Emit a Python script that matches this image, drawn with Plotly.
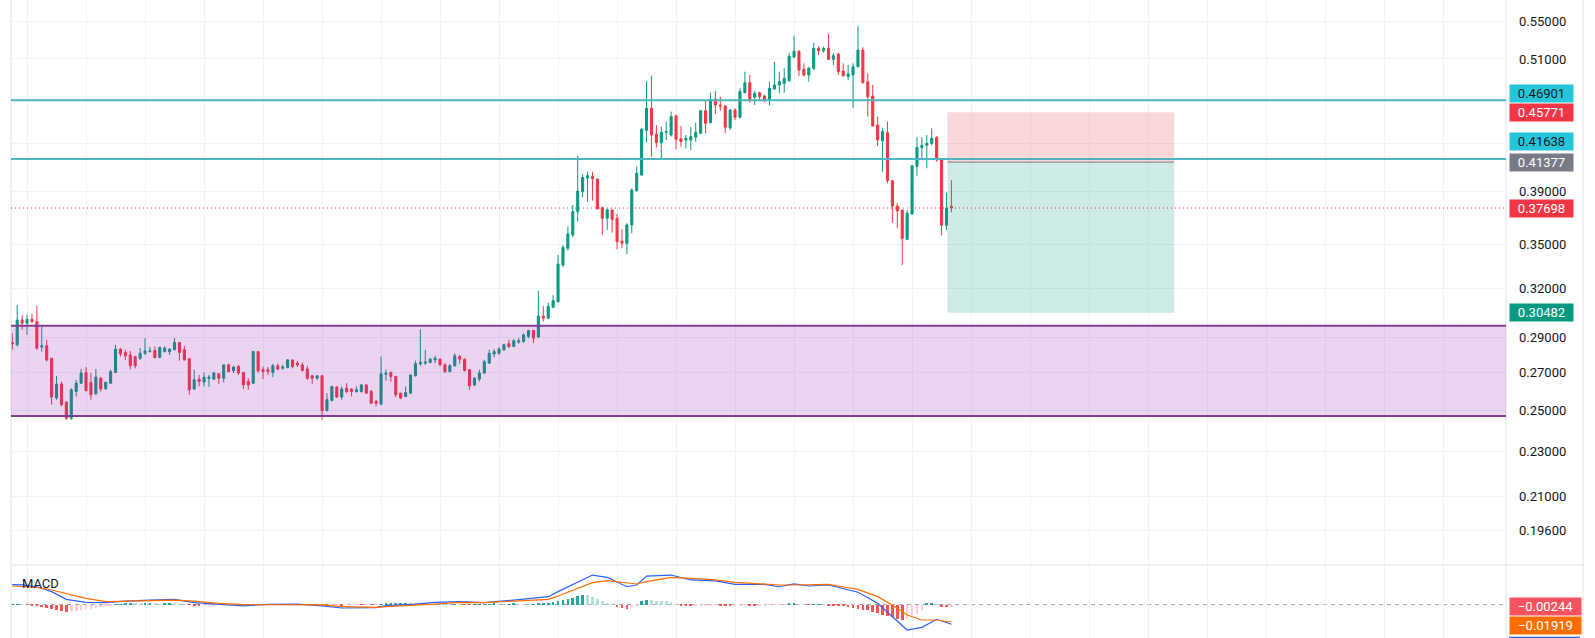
import numpy as np
import plotly.graph_objects as go

# ---------------- data ----------------
open_ = [
    .2870, .2857, .3005, .2985, .3009, .2995, .2844, .2851, .2780, .2565,
    .2639, .2544, .2462, .2599, .2643, .2701, .2647, .2587, .2670, .2613,
    .2643, .2701, .2832, .2813, .2799, .2790, .2780, .2808, .2818, .2824,
    .2786, .2818, .2818, .2828, .2871, .2828, .2777, .2612, .2665, .2649,
    .2669, .2665, .2694, .2670, .2743, .2710, .2734, .2701, .2652, .2643,
    .2818, .2718, .2716, .2701, .2738, .2724, .2729, .2771, .2753, .2743,
    .2720, .2683, .2670, .2683, .2501, .2552, .2623, .2570, .2617, .2612,
    .2599, .2599, .2634, .2599, .2547, .2533, .2692, .2701, .2679, .2590,
    .2573, .2590, .2683, .2749, .2753, .2756, .2771, .2775, .2743, .2706,
    .2738, .2790, .2775, .2716, .2634, .2665, .2698, .2753, .2805, .2808,
    .2828, .2863, .2847, .2874, .2876, .2905, .2941, .2902, .3029, .3015,
    .3083, .3118, .3359, .3475, .3570, .3742, .3897, .4006, .4019, .3998,
    .3772, .3692, .3755, .3692, .3526, .3509, .3643, .3905, .4031, .4414,
    .4614, .4380, .4304, .4396, .4371, .4543, .4339, .4327, .4327, .4352,
    .4387, .4592, .4482, .4700, .4645, .4636, .4436, .4599, .4532, .4763,
    .4860, .4719, .4763, .4731, .4693, .4799, .4838, .4854, .4880, .5119,
    .5180, .4994, .4937, .5004, .5211, .5186, .5211, .5096, .5151, .4977,
    .4921, .4937, .5021, .5193, .4870, .4731, .4461, .4320, .4392, .3985,
    .3785, .3755, .3538, .3725, .4103, .4261, .4281, .4296, .4350, .4155,
    .3640, .3784,
]
high = [
    .2925, .3098, .3036, .3036, .3042, .3091, .2965, .2886, .2780, .2683,
    .2651, .2547, .2617, .2661, .2721, .2731, .2698, .2720, .2676, .2652,
    .2716, .2857, .2838, .2828, .2822, .2794, .2838, .2896, .2844, .2847,
    .2847, .2847, .2838, .2896, .2871, .2851, .2780, .2716, .2688, .2701,
    .2688, .2706, .2698, .2743, .2749, .2738, .2743, .2706, .2670, .2822,
    .2822, .2734, .2731, .2749, .2749, .2743, .2775, .2771, .2765, .2756,
    .2738, .2688, .2688, .2688, .2590, .2629, .2626, .2626, .2643, .2617,
    .2626, .2638, .2638, .2608, .2556, .2790, .2716, .2706, .2683, .2593,
    .2626, .2688, .2767, .2949, .2828, .2780, .2794, .2780, .2753, .2749,
    .2808, .2799, .2780, .2720, .2676, .2716, .2771, .2828, .2832, .2844,
    .2863, .2886, .2890, .2896, .2925, .2945, .2945, .3187, .3091, .3112,
    .3161, .3428, .3498, .3631, .3793, .4189, .4039, .4058, .4058, .4004,
    .3781, .3764, .3757, .3725, .3611, .3655, .3923, .4100, .4436, .4876,
    .4926, .4461, .4446, .4491, .4583, .4558, .4451, .4371, .4441, .4482,
    .4599, .4693, .4763, .4779, .4724, .4645, .4605, .4614, .4805, .4970,
    .4937, .4782, .4773, .4741, .4870, .5072, .4970, .5004, .5160, .5348,
    .5190, .5055, .5021, .5270, .5235, .5228, .5367, .5160, .5165, .5055,
    .5038, .5055, .5452, .5222, .4954, .4838, .4537, .4436, .4491, .3985,
    .3806, .3755, .3755, .4114, .4352, .4352, .4371, .4431, .4361, .4169,
    .3889, .3990,
]
low = [
    .2828, .2847, .2945, .2915, .2985, .2828, .2818, .2761, .2530, .2556,
    .2522, .2454, .2454, .2573, .2639, .2599, .2556, .2582, .2599, .2608,
    .2639, .2698, .2790, .2771, .2718, .2724, .2771, .2799, .2813, .2780,
    .2780, .2813, .2799, .2828, .2767, .2767, .2582, .2608, .2626, .2626,
    .2623, .2661, .2638, .2647, .2701, .2698, .2688, .2612, .2608, .2639,
    .2701, .2665, .2688, .2676, .2712, .2716, .2724, .2724, .2731, .2706,
    .2661, .2639, .2661, .2454, .2496, .2547, .2565, .2556, .2590, .2573,
    .2593, .2593, .2587, .2534, .2522, .2530, .2657, .2652, .2570, .2559,
    .2570, .2587, .2679, .2738, .2743, .2753, .2753, .2738, .2698, .2701,
    .2734, .2749, .2706, .2608, .2626, .2652, .2694, .2749, .2786, .2799,
    .2824, .2838, .2844, .2863, .2870, .2896, .2867, .2896, .2995, .3009,
    .3077, .3112, .3343, .3458, .3553, .3667, .3852, .3819, .3827, .3757,
    .3570, .3606, .3587, .3468, .3475, .3435, .3582, .3897, .4023, .4305,
    .4183, .4263, .4172, .4327, .4357, .4245, .4271, .4254, .4240, .4313,
    .4381, .4387, .4476, .4560, .4592, .4387, .4416, .4506, .4523, .4757,
    .4667, .4645, .4693, .4671, .4645, .4789, .4757, .4763, .4870, .5112,
    .4928, .4921, .4871, .4987, .5141, .5165, .5089, .5038, .4937, .4921,
    .4886, .4614, .5014, .4854, .4537, .4446, .4275, .4058, .3964, .3658,
    .3618, .3359, .3534, .3720, .4025, .4172, .4086, .4281, .4141, .3567,
    .3606, .3737,
]
close = [
    .2863, .3005, .2985, .3009, .2995, .2838, .2851, .2771, .2570, .2639,
    .2530, .2462, .2608, .2643, .2698, .2604, .2582, .2676, .2612, .2647,
    .2706, .2832, .2805, .2794, .2738, .2738, .2808, .2822, .2822, .2784,
    .2842, .2838, .2832, .2871, .2813, .2771, .2608, .2661, .2652, .2676,
    .2676, .2698, .2670, .2743, .2706, .2731, .2698, .2634, .2634, .2818,
    .2710, .2706, .2706, .2738, .2720, .2731, .2771, .2734, .2743, .2712,
    .2670, .2670, .2683, .2501, .2556, .2626, .2570, .2612, .2599, .2599,
    .2608, .2634, .2590, .2538, .2538, .2694, .2698, .2679, .2582, .2565,
    .2593, .2688, .2749, .2756, .2759, .2775, .2780, .2743, .2706, .2738,
    .2794, .2775, .2712, .2629, .2670, .2698, .2761, .2808, .2818, .2832,
    .2857, .2847, .2880, .2880, .2915, .2941, .2896, .3029, .3015, .3087,
    .3125, .3366, .3481, .3577, .3742, .3902, .4011, .4025, .4000, .3764,
    .3692, .3757, .3685, .3521, .3511, .3643, .3910, .4045, .4422, .4614,
    .4371, .4304, .4396, .4402, .4537, .4333, .4313, .4342, .4357, .4393,
    .4592, .4476, .4700, .4645, .4636, .4441, .4599, .4532, .4773, .4860,
    .4693, .4757, .4725, .4687, .4805, .4838, .4870, .4903, .5125, .5180,
    .4987, .4937, .5004, .5211, .5186, .5211, .5096, .5134, .4970, .4928,
    .4948, .5021, .5193, .4860, .4724, .4452, .4327, .4401, .3985, .3785,
    .3748, .3545, .3730, .4106, .4263, .4281, .4298, .4342, .4155, .3640,
    .3770, .37698,
]
bar_index = list(range(len(close)))

# MACD pane: line vertices read at these bar positions
macd_at = [0, 2, 5, 8, 11, 15, 19, 23, 28, 33, 37, 42, 47, 52, 58, 63, 67, 74,
           76, 82, 86, 91, 96, 102, 109, 111, 115, 118, 121, 125, 127, 129,
           134, 138, 143, 147, 153, 156, 159, 162, 166, 170, 172, 176, 179,
           182, 185, 188, 191]
macd_line = [.0217, .0215, .0195, .0141, .0057, .0024, .0020, .0038, .0049,
             .0057, .0020, -.0002, -.0016, .0002, .0005, -.0016, -.0038,
             -.0035, -.0013, .0005, .0024, .0031, .0020, .0049, .0086, .0141,
             .0250, .0323, .0298, .0195, .0214, .0312, .0323, .0269, .0258,
             .0221, .0221, .0195, .0225, .0203, .0214, .0159, .0134, .0013,
             -.0134, -.0280, -.0250, -.0162, -.02163]
signal_line = [.0203, .0200, .0188, .0159, .0123, .0068, .0031, .0038, .0042,
               .0049, .0038, .0013, -.0002, -.0002, .0002, -.0005, -.0024,
               -.0031, -.0024, -.0009, .0005, .0024, .0020, .0038, .0057,
               .0093, .0177, .0239, .0261, .0232, .0225, .0250, .0298, .0287,
               .0269, .0243, .0221, .0214, .0214, .0217, .0221, .0184, .0166,
               .0086, -.0005, -.0115, -.0170, -.0170, -.01919]
histogram = [
    .0004, .0004, .0002, -.0003, -.0008,
    -.0016, -.0025, -.0038, -.0050, -.0060, -.0070, -.0080,
    -.0076, -.0068, -.0060, -.0052, -.0044, -.0036, -.0027, -.0018, -.0010,
    .0003, .0005, .0006, .0007, .0006, .0005, .0006, .0007, .0006, .0005,
    .0006, .0007, .0006, .0004, .0002,
    -.0005, -.0009, -.0011, -.0010, -.0008, -.0006, -.0005, -.0004, -.0003, -.0002,
    -.0001, .0002, .0003, .0004, .0003, .0002, .0001, .0002, .0001, -.0001,
    .0001, .0002, .0001, -.0001, -.0002, -.0003, -.0004, -.0005,
    -.0007, -.0006, -.0005, -.0006, -.0005, -.0004, -.0003, -.0003, -.0002,
    -.0002, -.0001, .0002,
    .0006, .0009, .0010, .0011, .0012, .0011, .0010, .0008, .0006, .0005,
    .0004, .0003, .0002, .0001, .0002, .0001, -.0001, -.0002, .0002, .0003,
    .0004, .0005, .0006, .0005, .0004, .0005, .0006, .0005, .0004, .0003, .0005,
    .0008, .0012, .0018, .0025, .0035, .0045, .0060, .0075, .0090, .0104,
    .0100, .0085, .0060, .0040, .0018, .0005,
    -.0025, -.0040, -.0045, -.0030, -.0020,
    .0035, .0050, .0045, .0040, .0038, .0035, .0030, .0005,
    -.0008, -.0012, -.0014, -.0012, -.0010, -.0008, -.0006, -.0005, -.0008,
    -.0010, -.0012, -.0009, -.0006, -.0004, -.0008, -.0010, -.0008, -.0006,
    -.0005, -.0004, -.0003, -.0002,
    .0006, .0008, .0005, .0002, -.0002, .0003, .0004, .0002,
    -.0008, -.0012, -.0015, -.0020, -.0028, -.0035,
    -.0045, -.0055, -.0065, -.0080, -.0095, -.0110, -.0125, -.0140, -.0160, -.0170,
    -.0155, -.0130, -.0100, -.0055,
    .0006, .0008, .0005,
    -.0022, -.0025, -.00244,
]

price_ticks = [0.55, 0.51, 0.47, 0.43, 0.39, 0.35, 0.32, 0.29, 0.27, 0.25, 0.23, 0.21, 0.196]
price_tick_text = ["0.55000", "0.51000", "", "", "0.39000", "0.35000", "0.32000",
                   "0.29000", "0.27000", "0.25000", "0.23000", "0.21000", "0.19600"]

level_upper = 0.46901
level_lower = 0.41638
last_price = 0.37698
range_top = 0.2970
range_bottom = 0.2473
pos_stop = 0.45771
pos_entry = 0.41377
pos_target = 0.30482
pos_from_bar = 190.2
pos_to_bar = 236.3
signal_last, hist_last = -0.01919, -0.00244

# ---------------- layout constants ----------------
W, H = 1595, 638
PLOT_L, PLOT_R = 11, 1506
SPLIT_PX = 565
X_RANGE = [-0.26, 303.8]
PRICE_TOP, PRICE_BOTTOM = 0.57473, 0.18284
MACD_RANGE = [-0.0367, 0.0433]
grid_bars = list(range(3, 300, 12))

UP, DOWN = "#089981", "#f23645"
GRID = "#f0f3fa"
BORDER = "#e0e3eb"
CYAN_LINE, CYAN_LABEL = "#4db6c1", "#26c6da"
PURPLE_LINE = "#843c93"
FONT = "Roboto"

split = 1 - SPLIT_PX / H
px_to_paper_x = lambda px: (px - PLOT_L) / (PLOT_R - PLOT_L)

fig = go.Figure()

fig.add_trace(go.Candlestick(
    x=bar_index, open=open_, high=high, low=low, close=close,
    increasing=dict(line=dict(color=UP, width=1), fillcolor=UP),
    decreasing=dict(line=dict(color=DOWN, width=1), fillcolor=DOWN),
    whiskerwidth=0, xaxis="x", yaxis="y", showlegend=False, hoverinfo="skip",
))

hist_colors = []
for i, h in enumerate(histogram):
    prev = histogram[i - 1] if i > 0 else 0
    if h >= 0:
        hist_colors.append("#26a69a" if h >= prev else "#b2dfdb")
    else:
        hist_colors.append("#ffcdd2" if h > prev else "#ff5252")

fig.add_trace(go.Bar(x=bar_index, y=histogram, marker=dict(color=hist_colors, line=dict(width=0)),
                     width=0.55, xaxis="x2", yaxis="y2", showlegend=False, hoverinfo="skip"))
fig.add_trace(go.Scatter(x=macd_at, y=macd_line, mode="lines", line=dict(color="#2962ff", width=1.2),
                         xaxis="x2", yaxis="y2", showlegend=False, hoverinfo="skip"))
fig.add_trace(go.Scatter(x=macd_at, y=signal_line, mode="lines", line=dict(color="#ff6d00", width=1.2),
                         xaxis="x2", yaxis="y2", showlegend=False, hoverinfo="skip"))

shapes = []
# pane borders
shapes.append(dict(type="line", xref="paper", yref="paper", x0=0, x1=px_to_paper_x(1583),
                   y0=split, y1=split, line=dict(color=BORDER, width=1)))
for xp in [0, 1, px_to_paper_x(1583)]:
    shapes.append(dict(type="line", xref="paper", yref="paper", x0=xp, x1=xp, y0=0, y1=1,
                       line=dict(color=BORDER, width=1)))
# MACD zero line
shapes.append(dict(type="line", xref="x2", yref="y2", x0=X_RANGE[0], x1=X_RANGE[1], y0=0, y1=0,
                   line=dict(color="#a3a6af", width=1, dash="4px,4px"), layer="below"))
# range rectangle
shapes.append(dict(type="rect", xref="x", yref="y", x0=X_RANGE[0], x1=X_RANGE[1],
                   y0=range_bottom, y1=range_top, fillcolor="rgba(156,39,176,0.2)",
                   line=dict(width=0), layer="above"))
for yv in [range_top, range_bottom]:
    shapes.append(dict(type="line", xref="x", yref="y", x0=X_RANGE[0], x1=X_RANGE[1],
                       y0=yv, y1=yv, line=dict(color=PURPLE_LINE, width=2), layer="above"))
# position tool
shapes.append(dict(type="rect", xref="x", yref="y", x0=pos_from_bar, x1=pos_to_bar,
                   y0=pos_entry, y1=pos_stop, fillcolor="rgba(242,54,69,0.2)",
                   line=dict(width=0), layer="above"))
shapes.append(dict(type="rect", xref="x", yref="y", x0=pos_from_bar, x1=pos_to_bar,
                   y0=pos_target, y1=pos_entry, fillcolor="rgba(8,153,129,0.2)",
                   line=dict(width=0), layer="above"))
shapes.append(dict(type="line", xref="x", yref="y", x0=pos_from_bar, x1=pos_to_bar,
                   y0=pos_entry, y1=pos_entry, line=dict(color="#787b86", width=1), layer="above"))
# last price dotted line
shapes.append(dict(type="line", xref="x", yref="y", x0=X_RANGE[0], x1=X_RANGE[1],
                   y0=last_price, y1=last_price, line=dict(color=DOWN, width=1, dash="1px,3px"),
                   layer="above"))
# horizontal levels
for yv in [level_upper, level_lower]:
    shapes.append(dict(type="line", xref="x", yref="y", x0=X_RANGE[0], x1=X_RANGE[1],
                       y0=yv, y1=yv, line=dict(color=CYAN_LINE, width=2), layer="above"))
# MACD-line price label, only its top edge shows at the bottom of the window
shapes.append(dict(type="rect", xref="paper", yref="paper", x0=px_to_paper_x(1509),
                   x1=px_to_paper_x(1580), y0=-0.02, y1=1 - 636.7 / H,
                   fillcolor="#2962ff", line=dict(width=0), layer="above"))

annotations = []
label_x = px_to_paper_x(1509)
price_labels = [
    (level_upper, CYAN_LABEL, "#131722", 7),
    (pos_stop, DOWN, "#ffffff", 0),
    (level_lower, CYAN_LABEL, "#131722", 17.7),
    (pos_entry, "#787b86", "#ffffff", 0),
    (last_price, DOWN, "#ffffff", 0),
    (pos_target, UP, "#ffffff", 0),
]
for val, bg, fg, shift in price_labels:
    annotations.append(dict(
        xref="paper", yref="y", x=label_x, y=np.log10(val), xanchor="left", yanchor="middle",
        text=f"{val:.5f}", showarrow=False, bgcolor=bg, font=dict(family=FONT, size=13, color=fg),
        width=63, height=17, borderpad=0, align="center", yshift=shift,
    ))
macd_labels = [
    (hist_last, "#f7525f", 0),
    (signal_last, "#ff6d00", -3),
]
for val, bg, shift in macd_labels:
    annotations.append(dict(
        xref="paper", yref="y2", x=label_x, y=val, xanchor="left", yanchor="middle",
        text=f"{val:.5f}".replace("-", "\u2212"), showarrow=False, bgcolor=bg,
        font=dict(family=FONT, size=13, color="#ffffff"),
        width=71, height=17, borderpad=0, align="center", yshift=shift,
    ))
annotations.append(dict(xref="paper", yref="paper", x=px_to_paper_x(20), y=1 - 583 / H,
                        xanchor="left", yanchor="middle", text="MACD", showarrow=False,
                        font=dict(family=FONT, size=13, color="#131722")))

axis_x = dict(range=X_RANGE, showgrid=True, gridcolor=GRID, gridwidth=1, tickvals=grid_bars,
              showticklabels=False, ticks="", zeroline=False, showline=False, fixedrange=True)

fig.update_layout(
    width=W, height=H,
    margin=dict(l=PLOT_L, r=W - PLOT_R, t=0, b=0),
    paper_bgcolor="white", plot_bgcolor="white",
    font=dict(family=FONT, size=13, color="#131722"),
    showlegend=False, boxgap=0.4, bargap=0,
    xaxis=dict(**axis_x, domain=[0, 1], anchor="y", rangeslider=dict(visible=False)),
    xaxis2=dict(**axis_x, domain=[0, 1], anchor="y2", matches="x"),
    yaxis=dict(type="log", domain=[split, 1],
               range=[np.log10(PRICE_BOTTOM), np.log10(PRICE_TOP)],
               side="right", tickvals=price_ticks, ticktext=price_tick_text,
               showgrid=True, gridcolor=GRID, ticks="", ticklabelstandoff=12,
               tickfont=dict(family=FONT, size=13, color="#131722"),
               zeroline=False, showline=False, automargin=False, anchor="x"),
    yaxis2=dict(domain=[0, split], range=MACD_RANGE, side="right", showgrid=False,
                showticklabels=False, ticks="", zeroline=False, showline=False,
                automargin=False, anchor="x2"),
    shapes=shapes, annotations=annotations,
)

fig.write_html("out.html", config={"displayModeBar": False},
               post_script="document.body.style.margin='0';document.body.style.overflow='hidden';")
